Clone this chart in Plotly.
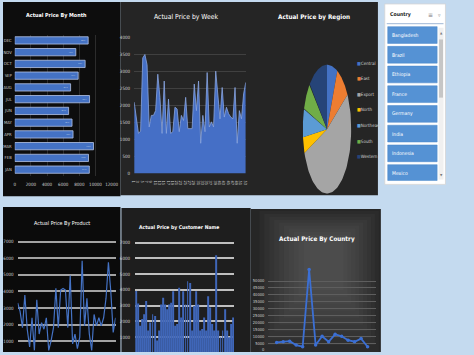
import numpy as np
import plotly.graph_objects as go

W, H = 474, 355


def fx(p):
    return p / W


def fy(p):
    return 1 - p / H


FONT = "DejaVu Sans Condensed, Liberation Sans Narrow, sans-serif"

# ---------------- data ----------------
months = ["JAN", "FEB", "MAR", "APR", "MAY", "JUN", "JUL", "AUG", "SEP", "OCT", "NOV", "DEC"]
month_price = [9233.76, 9132.98, 9750.76, 7220.79, 7093.76, 6672.40,
               9261.13, 6915.76, 7853.53, 8716.37, 7561.84, 9092.28]
month_ticks = [0, 2000, 4000, 6000, 8000, 10000, 12000]

weeks = list(range(1, 54))
week_ticks = list(range(1, 54, 2))
week_price = [2100, 1600, 1180, 1250, 3400, 3500, 3200, 1370, 1710, 1710,
              1850, 2920, 2240, 1180, 2720, 1180, 2190, 1180, 1230, 1950,
              1900, 1230, 1710, 1560, 2240, 1320, 1320, 1320, 2630, 1850,
              2720, 890, 1710, 1230, 2970, 1370, 1520, 1370, 3010, 2240,
              1610, 2530, 1660, 1950, 1760, 1660, 1610, 2530, 890, 1850,
              1610, 2340, 2680]

regions = ["Central", "East", "Export", "North", "Northeast", "South", "Western"]
region_share = [7, 9, 53, 4, 7, 7, 13]
region_colors = ["#4472c4", "#ed7d31", "#a5a5a5", "#ffc000", "#5b9bd5", "#70ad47", "#264478"]

product_price = [3300, 2800, 1820, 3780, 1720, 650, 2410, 450, 3490, 1430,
                 2120, 1720, 2410, 450, 1040, 1820, 4180, 1820, 4080, 4180,
                 4080, 1820, 4960, 840, 1430, 550, 1240, 5840, 1920, 3590,
                 1430, 450, 2610, 1920, 2410, 1920, 2410, 3590, 5750, 3980,
                 1530, 2410]
products = [f"Product {i}" for i in range(1, len(product_price) + 1)]

customer_price = [3930, 3130, 1730, 2150, 2460, 3290, 1420, 1940, 2460, 2350,
                  790, 1420, 3080, 3500, 3080, 2770, 3080, 3190, 3920, 1730,
                  1830, 4130, 2250, 3920, 3080, 4540, 4440, 1420, 2980, 3920,
                  3080, 1420, 1520, 2250, 1420, 3600, 2880, 1830, 1420, 6200,
                  1420, 1000, 1420, 2770, 1420, 1000, 1830, 2250]
customers = [f"Customer {i}" for i in range(1, len(customer_price) + 1)]

countries = ["Bangladesh", "Brazil", "Ethiopia", "France", "Germany", "India",
             "Indonesia", "Mexico", "Nigeria", "Pakistan", "Philippines",
             "Russia", "Turkey", "United Kingdom", "United States"]
country_price = [5500, 6000, 6400, 3600, 2400, 58300, 3600, 10000, 6000,
                 11400, 10000, 7100, 6000, 8300, 2400]
country_ticks = [0, 5000, 10000, 15000, 20000, 25000, 30000, 35000, 40000, 45000, 50000]

slicer_items = countries[:8]

# ---------------- figure ----------------
fig = go.Figure()

# Month bars
fig.add_trace(go.Bar(
    y=months, x=month_price, orientation="h", xaxis="x", yaxis="y",
    width=0.62,
    marker=dict(color="#4472c4", line=dict(color="#b4c3e6", width=0.8)),
    text=[f"{v:.2f}" for v in month_price], textposition="inside",
    insidetextanchor="end", textfont=dict(size=5, color="white", family=FONT),
    hoverinfo="x+y"))

# Week area
fig.add_trace(go.Scatter(
    x=weeks, y=week_price, xaxis="x2", yaxis="y2", mode="lines",
    fill="tozeroy", fillcolor="#456fc6",
    line=dict(color="#8aa6e0", width=0.8)))

# Region pie (tilted ellipse drawn on stretched axes)
total = float(sum(region_share))
cum = np.concatenate([[0.0], np.cumsum(region_share)]) / total * 2 * np.pi
for i, name in enumerate(regions):
    t = np.linspace(cum[i], cum[i + 1], 80)
    xs = np.concatenate([[0.0], np.sin(t), [0.0]])
    ys = np.concatenate([[0.0], np.cos(t), [0.0]])
    fig.add_trace(go.Scatter(
        x=xs, y=ys, xaxis="x3", yaxis="y3", mode="lines", fill="toself",
        fillcolor=region_colors[i], line=dict(width=0), name=name,
        hoverinfo="name"))

# Product line
fig.add_trace(go.Scatter(
    x=products, y=product_price, xaxis="x4", yaxis="y4", mode="lines",
    line=dict(color="#4472c4", width=1.2)))

# Customer bars
fig.add_trace(go.Bar(
    x=customers, y=customer_price, xaxis="x5", yaxis="y5", width=0.45,
    marker=dict(color="#3f66b8", line=dict(width=0))))

# Country line
fig.add_trace(go.Scatter(
    x=countries, y=country_price, xaxis="x6", yaxis="y6", mode="lines+markers",
    line=dict(color="#3b6fd4", width=1.8),
    marker=dict(size=3.5, color="#3b6fd4")))

# ---------------- panels ----------------
shapes = []


def rect(x0, y0, x1, y1, fill, line_color=None, lw=0, opacity=1.0, layer="below"):
    shapes.append(dict(type="rect", xref="paper", yref="paper",
                       x0=fx(x0), x1=fx(x1), y0=fy(y1), y1=fy(y0),
                       fillcolor=fill, opacity=opacity, layer=layer,
                       line=dict(color=line_color or fill, width=lw)))


rect(0, 0, 120, 197, "#0d0d0d")
rect(120, 0, 383, 196, "#252525")
rect(0, 208, 120, 355, "#0b0b0b")
rect(121, 209, 253, 355, "#1e1e1e")
rect(253, 210, 386, 355, "#262626")
# soft radial glow for country panel
for k in range(10):
    rect(262 + k * 5, 212 + k * 3, 384 - k * 4, 355 - k * 7, "#7a7a7a", opacity=0.065)

# slicer
rect(390, 2, 452, 185, "#ffffff", line_color="#d4d4d4", lw=0.8)
shapes.append(dict(type="line", xref="paper", yref="paper",
                   x0=fx(392), x1=fx(450), y0=fy(22), y1=fy(22),
                   line=dict(color="#9fb7d6", width=1)))
for j, c in enumerate(slicer_items):
    y0 = 25 + j * 20
    rect(393, y0, 443.5, min(y0 + 17, 181), "#5592d4", line_color="#4a86c8", lw=0.5, layer="above")
rect(445, 26, 450, 180, "#f0f0f0", layer="above")
rect(445.5, 38, 449.5, 97, "#c6c6c6", layer="above")

annotations = []


def text(x, y, s, size, color="white", bold=False, xanchor="center", family=FONT):
    annotations.append(dict(xref="paper", yref="paper", x=fx(x), y=fy(y),
                            text=f"<b>{s}</b>" if bold else s, showarrow=False,
                            xanchor=xanchor, yanchor="middle",
                            font=dict(size=size, color=color, family=family)))


text(55, 14, "Actual Price By Month", 5.4, bold=True)
text(187, 15, "Actual Price by Week", 6.8)
text(318, 15, "Actual Price by Region", 6.3, bold=True)
text(60, 225, "Actual Price By Product", 5.4)
text(180, 229, "Actual Price by Customer Name", 5.0, bold=True)
text(321, 240, "Actual Price By Country", 6.3, bold=True)

# pie legend
for i, name in enumerate(regions):
    annotations.append(dict(
        xref="paper", yref="paper", x=fx(360), y=fy(62 + i * 15.8),
        text=f"<span style='color:{region_colors[i]}'>■</span>{name}",
        showarrow=False, xanchor="left", yanchor="middle",
        font=dict(size=4.5, color="#d0d0d0", family=FONT)))

# slicer texts
text(393, 13, "Country", 5.2, color="#222222", bold=True, xanchor="left")
text(437, 13, "≡", 6, color="#777777", family="DejaVu Sans")
text(446, 13, "▿", 5, color="#777777", family="DejaVu Sans")
text(447.5, 31, "▲", 3, color="#777777", family="DejaVu Sans")
text(447.5, 175, "▼", 3, color="#777777", family="DejaVu Sans")
for j, c in enumerate(slicer_items):
    text(395, 25 + j * 20 + 8.5, c, 5, color="white", xanchor="left")

tick_font = dict(size=4.5, color="#d0d0d0", family=FONT)

fig.update_layout(
    width=W, height=H, margin=dict(l=0, r=0, t=0, b=0),
    paper_bgcolor="#c4daef", plot_bgcolor="rgba(0,0,0,0)",
    showlegend=False, shapes=shapes, annotations=annotations,
    font=dict(family=FONT),
    xaxis=dict(domain=[fx(12), fx(111)], range=[0, 12000],
               tickvals=month_ticks, ticktext=[str(v) for v in month_ticks],
               tickfont=tick_font,
               showgrid=True, gridcolor="#2c2c2c", gridwidth=1, zeroline=False,
               anchor="y", fixedrange=True, ticklabelstandoff=5),
    yaxis=dict(domain=[fy(176), fy(33)], categoryorder="array",
               categoryarray=months, tickfont=dict(size=4.2, color="#d0d0d0", family=FONT),
               anchor="x", fixedrange=True, showgrid=False, ticklabelstandoff=2),
    xaxis2=dict(domain=[fx(134), fx(248)], range=[1, 53], tickvals=week_ticks,
                tickfont=dict(size=4, color="#cfcfcf", family=FONT),
                showgrid=False, zeroline=False, anchor="y2", fixedrange=True,
                ticklabelstandoff=4),
    yaxis2=dict(domain=[fy(174), fy(36)], range=[0, 4000], dtick=500,
                tickfont=tick_font, gridcolor="#404040", gridwidth=1,
                zeroline=False, anchor="x2", fixedrange=True, ticklabelstandoff=3),
    xaxis3=dict(domain=[fx(306), fx(356)], range=[-1.01, 1.01], visible=False,
                anchor="y3", fixedrange=True),
    yaxis3=dict(domain=[fy(195), fy(63)], range=[-1.01, 1.01], visible=False,
                anchor="x3", fixedrange=True),
    xaxis4=dict(domain=[fx(15), fx(115)], showticklabels=False, showgrid=False,
                zeroline=False, anchor="y4", fixedrange=True),
    yaxis4=dict(domain=[0, fy(241.3)], range=[350, 7100], tick0=0, dtick=1000,
                tickformat="d", tickfont=tick_font, gridcolor="#a3a3a3", gridwidth=2,
                zeroline=False, anchor="x4", fixedrange=True, ticklabelstandoff=3),
    xaxis5=dict(domain=[fx(135), fx(236)], showticklabels=False, showgrid=False,
                zeroline=False, anchor="y5", fixedrange=True),
    yaxis5=dict(domain=[0, fy(242.4)], range=[62, 7100], tick0=0, dtick=1000,
                tickformat="d", tickfont=tick_font, gridcolor="#bfbfbf", gridwidth=2,
                zeroline=False, anchor="x5", fixedrange=True, ticklabelstandoff=4),
    xaxis6=dict(domain=[fx(271), fx(381)], showticklabels=False, showgrid=False,
                zeroline=False, anchor="y6", fixedrange=True),
    yaxis6=dict(domain=[fy(353), fy(269)], range=[0, 60000], tickvals=country_ticks,
                ticktext=[str(v) for v in country_ticks],
                tickfont=dict(size=4, color="#d0d0d0", family=FONT),
                gridcolor="#5e5e5e", gridwidth=0.5, zeroline=False,
                anchor="x6", fixedrange=True, ticklabelstandoff=3),
)

fig.write_html("out.html")
